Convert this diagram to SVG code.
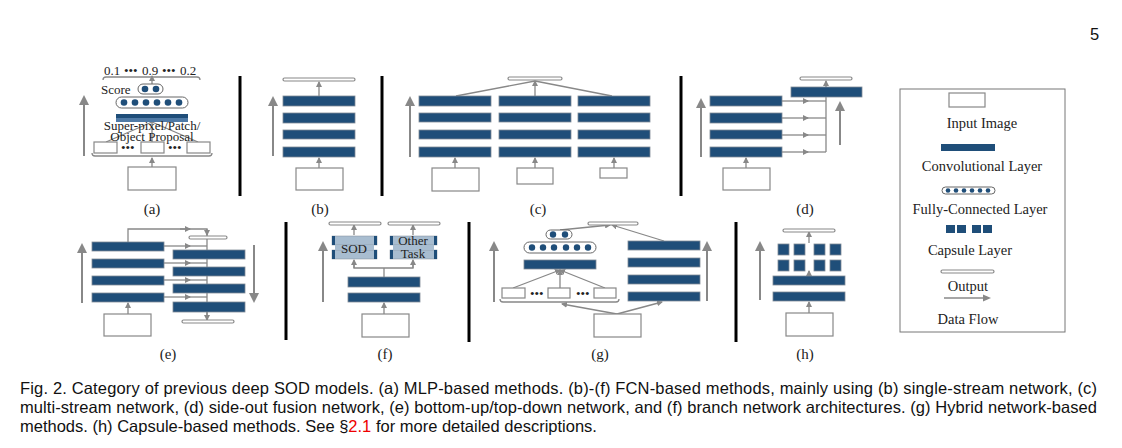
<svg xmlns="http://www.w3.org/2000/svg" width="1122" height="448" viewBox="0 0 1122 448">
<style>
.c{fill:#1f4e79;stroke:#7f8a96;stroke-width:0.8}
.i{fill:#fff;stroke:#888;stroke-width:1.2}
.o{fill:#fff;stroke:#888;stroke-width:1.2}
.f{fill:#fff;stroke:#666;stroke-width:1}
.d{fill:#1f4e79}
.l{stroke:#888;stroke-width:1.3;fill:none}
.a{stroke:#888;stroke-width:1.3;fill:none;marker-end:url(#s)}
.b{stroke:#888;stroke-width:2;fill:none;marker-end:url(#g)}
.sep{stroke:#000;stroke-width:3}
.t{font-family:"Liberation Serif",serif;font-size:13px;fill:#222}
.lb{font-family:"Liberation Serif",serif;font-size:15px;fill:#222;text-anchor:middle}
.lg{font-family:"Liberation Serif",serif;font-size:14.5px;fill:#222;text-anchor:middle}
.cap{font-family:"Liberation Sans",Arial,sans-serif;font-size:16.5px;fill:#111}
.sb{fill:#a8bdd0;stroke:#7f8a96;stroke-width:0.5}
</style>
<defs>
<marker id="s" markerWidth="6" markerHeight="6" refX="5" refY="3" orient="auto" markerUnits="userSpaceOnUse"><path d="M0,0L6,3L0,6z" fill="#888"/></marker>
<marker id="g" markerWidth="10" markerHeight="10" refX="8" refY="5" orient="auto" markerUnits="userSpaceOnUse"><path d="M0,0L10,5L0,10z" fill="#888"/></marker>
</defs>
<rect width="1122" height="448" fill="#fff"/>
<text x="1090" y="40" class="cap" font-size="14">5</text>
<g id="separators">
<line class="sep" x1="240" y1="76" x2="240" y2="196"/>
<line class="sep" x1="382" y1="76" x2="382" y2="196"/>
<line class="sep" x1="681" y1="76" x2="681" y2="196"/>
<line class="sep" x1="286" y1="222" x2="286" y2="340"/>
<line class="sep" x1="469" y1="222" x2="469" y2="342"/>
<line class="sep" x1="736" y1="222" x2="736" y2="342"/>
</g>
<g id="connectors">
<line class="b" x1="84" y1="156" x2="84" y2="97"/>
<line class="a" x1="152" y1="167" x2="152" y2="158"/>
<line class="a" x1="152" y1="84" x2="152" y2="76"/>
<line class="l" x1="106" y1="142" x2="152" y2="122"/>
<line class="l" x1="152" y1="142" x2="152" y2="122"/>
<line class="l" x1="198" y1="142" x2="152" y2="122"/>
<line class="b" x1="273" y1="156" x2="273" y2="98"/>
<line class="a" x1="319" y1="168" x2="319" y2="158"/>
<line class="a" x1="319" y1="96" x2="319" y2="82"/>
<line class="b" x1="410" y1="157" x2="410" y2="98"/>
<line class="a" x1="455" y1="168" x2="455" y2="158"/>
<line class="a" x1="535" y1="168" x2="535" y2="158"/>
<line class="a" x1="614" y1="168" x2="614" y2="158"/>
<line class="a" x1="535" y1="96" x2="535" y2="81"/>
<line class="l" x1="456" y1="96" x2="535" y2="81"/>
<line class="l" x1="612" y1="96" x2="535" y2="81"/>
<line class="b" x1="701" y1="157" x2="701" y2="100"/>
<line class="a" x1="746" y1="168" x2="746" y2="158"/>
<line class="a" x1="782" y1="101" x2="808" y2="101"/><line class="l" x1="805" y1="101" x2="826" y2="101"/>
<line class="a" x1="782" y1="118" x2="808" y2="118"/><line class="l" x1="805" y1="118" x2="826" y2="118"/>
<line class="a" x1="782" y1="135" x2="808" y2="135"/><line class="l" x1="805" y1="135" x2="826" y2="135"/>
<line class="a" x1="782" y1="152" x2="808" y2="152"/><line class="l" x1="805" y1="152" x2="826" y2="152"/>
<line class="l" x1="826" y1="97" x2="826" y2="152"/>
<line class="b" x1="840" y1="145" x2="840" y2="103"/>
<line class="a" x1="826" y1="87" x2="826" y2="81"/>
<line class="b" x1="82" y1="303" x2="82" y2="245"/>
<line class="b" x1="254" y1="245" x2="254" y2="301"/>
<line class="a" x1="128" y1="314" x2="128" y2="303"/>
<polyline class="l" points="128,242 128,229 207,229 207,236"/>
<line class="a" x1="180" y1="229" x2="190" y2="229"/>
<line class="a" x1="207" y1="229" x2="207" y2="235"/>
<line class="l" x1="207" y1="239" x2="207" y2="320"/>
<line class="a" x1="207" y1="312" x2="207" y2="320"/>
<line class="a" x1="164" y1="246" x2="190" y2="246"/><line class="l" x1="188" y1="246" x2="207" y2="246"/>
<line class="a" x1="164" y1="263" x2="190" y2="263"/><line class="l" x1="188" y1="263" x2="207" y2="263"/>
<line class="a" x1="164" y1="280" x2="190" y2="280"/><line class="l" x1="188" y1="280" x2="207" y2="280"/>
<line class="a" x1="164" y1="297" x2="190" y2="297"/><line class="l" x1="188" y1="297" x2="207" y2="297"/>
<line class="b" x1="323" y1="302" x2="323" y2="243"/>
<line class="a" x1="384" y1="314" x2="384" y2="303"/>
<line class="l" x1="384" y1="277" x2="384" y2="268"/>
<polyline class="l" points="354,262 354,268 413,268 413,262"/>
<line class="a" x1="354" y1="268" x2="354" y2="260"/>
<line class="a" x1="413" y1="268" x2="413" y2="260"/>
<line class="a" x1="354" y1="235" x2="354" y2="225"/>
<line class="a" x1="413" y1="235" x2="413" y2="225"/>
<line class="b" x1="494" y1="302" x2="494" y2="243"/>
<line class="b" x1="707" y1="301" x2="707" y2="243"/>
<line class="a" x1="617" y1="314" x2="562" y2="304"/>
<line class="a" x1="617" y1="314" x2="662" y2="302"/>
<line class="a" x1="513" y1="288" x2="560" y2="270"/>
<line class="a" x1="560" y1="288" x2="560" y2="270"/>
<line class="a" x1="605" y1="288" x2="560" y2="270"/>
<line class="a" x1="560" y1="230" x2="610" y2="225"/>
<line class="a" x1="664" y1="241" x2="612" y2="225"/>
<line class="b" x1="760" y1="300" x2="760" y2="243"/>
<line class="a" x1="809" y1="313" x2="809" y2="302"/>
<line class="a" x1="809" y1="276" x2="809" y2="271"/>
<line class="a" x1="809" y1="243" x2="809" y2="232"/>
</g>
<g id="panel-a">
<text x="104" y="75" class="t" font-size="14.5">0.1</text>
<text x="124" y="75" class="t" font-size="12">•••</text>
<text x="142" y="75" class="t" font-size="14.5">0.9</text>
<text x="162" y="75" class="t" font-size="12">•••</text>
<text x="180" y="75" class="t" font-size="14.5">0.2</text>
<path class="l" d="M103,80 q0,-3 3,-3 M200,80 q0,-3 -3,-3 M106,77 L197,77" stroke-width="0.8"/>
<text x="101" y="94" class="t" font-size="14">Score</text>
<rect class="f" x="138" y="84" width="25" height="10" rx="5"/>
<circle class="d" cx="145" cy="89" r="3.3"/><circle class="d" cx="156" cy="89" r="3.3"/>
<rect class="f" x="116" y="97" width="72" height="11" rx="5.5"/>
<circle class="d" cx="124" cy="102.5" r="3.3"/><circle class="d" cx="135" cy="102.5" r="3.3"/><circle class="d" cx="146" cy="102.5" r="3.3"/><circle class="d" cx="157" cy="102.5" r="3.3"/><circle class="d" cx="168" cy="102.5" r="3.3"/><circle class="d" cx="179" cy="102.5" r="3.3"/>
<rect x="116" y="114" width="72" height="8" fill="#4f7aa6"/>
<rect x="116" y="114" width="72" height="4" fill="#1f4e79"/>
<text x="152" y="130" class="t" text-anchor="middle" font-size="12">Super-pixel/Patch/</text>
<text x="152" y="141" class="t" text-anchor="middle" font-size="12">Object Proposal</text>
<rect class="i" x="94" y="142" width="23" height="11"/>
<rect class="i" x="141" y="142" width="23" height="11"/>
<rect class="i" x="187" y="142" width="23" height="11"/>
<text x="121" y="152" class="t" font-size="11">•••</text>
<text x="168" y="152" class="t" font-size="11">•••</text>
<path class="l" d="M92,153 q0,3 3,3 L209,156 q3,0 3,-3" stroke-width="0.8"/>
<rect class="i" x="128" y="167" width="48" height="23"/>
<text x="152" y="214" class="lb">(a)</text>
</g>
<g id="panel-b">
<rect class="o" x="283" y="78" width="72" height="3" rx="1.5"/>
<rect class="c" x="283" y="96" width="72" height="10"/>
<rect class="c" x="283" y="113" width="72" height="10"/>
<rect class="c" x="283" y="130" width="72" height="9"/>
<rect class="c" x="283" y="147" width="72" height="10"/>
<rect class="i" x="296" y="168" width="47" height="22"/>
<text x="320" y="214" class="lb">(b)</text>
</g>
<g id="panel-c">
<rect class="o" x="508" y="77" width="54" height="3" rx="1.5"/>
<rect class="c" x="419" y="96" width="72" height="10"/><rect class="c" x="499" y="96" width="72" height="10"/><rect class="c" x="578" y="96" width="72" height="10"/>
<rect class="c" x="419" y="113" width="72" height="9"/><rect class="c" x="499" y="113" width="72" height="9"/><rect class="c" x="578" y="113" width="72" height="9"/>
<rect class="c" x="419" y="130" width="72" height="9"/><rect class="c" x="499" y="130" width="72" height="9"/><rect class="c" x="578" y="130" width="72" height="9"/>
<rect class="c" x="419" y="147" width="72" height="10"/><rect class="c" x="499" y="147" width="72" height="10"/><rect class="c" x="578" y="147" width="72" height="10"/>
<rect class="i" x="432" y="168" width="47" height="23"/>
<rect class="i" x="517" y="168" width="36" height="16"/>
<rect class="i" x="600" y="168" width="27" height="10"/>
<text x="538" y="214" class="lb">(c)</text>
</g>
<g id="panel-d">
<rect class="o" x="800" y="77" width="52" height="3" rx="1.5"/>
<rect class="c" x="791" y="87" width="71" height="10"/>
<rect class="c" x="710" y="96" width="72" height="10"/>
<rect class="c" x="710" y="113" width="72" height="10"/>
<rect class="c" x="710" y="130" width="72" height="9"/>
<rect class="c" x="710" y="147" width="72" height="10"/>
<rect class="i" x="723" y="168" width="47" height="22"/>
<text x="805" y="214" class="lb">(d)</text>
</g>
<g id="panel-e">
<rect class="o" x="189" y="236" width="38" height="3" rx="1.5"/>
<rect class="o" x="182" y="320" width="52" height="3" rx="1.5"/>
<rect class="c" x="92" y="242" width="72" height="9"/>
<rect class="c" x="92" y="259" width="72" height="9"/>
<rect class="c" x="92" y="276" width="72" height="9"/>
<rect class="c" x="92" y="293" width="72" height="9"/>
<rect class="c" x="173" y="250" width="72" height="9"/>
<rect class="c" x="173" y="267" width="72" height="9"/>
<rect class="c" x="173" y="284" width="72" height="9"/>
<rect class="c" x="173" y="302" width="72" height="10"/>
<rect class="i" x="104" y="314" width="47" height="22"/>
<text x="168" y="359" class="lb">(e)</text>
</g>
<g id="panel-f">
<rect class="o" x="329" y="222" width="52" height="3" rx="1.5"/>
<rect class="o" x="388" y="222" width="52" height="3" rx="1.5"/>
<rect class="sb" x="332" y="236" width="45" height="9"/><rect class="sb" x="332" y="250" width="45" height="9"/>
<rect class="d" x="332" y="236" width="3" height="9"/><rect class="d" x="374" y="236" width="3" height="9"/><rect class="d" x="332" y="250" width="3" height="9"/><rect class="d" x="374" y="250" width="3" height="9"/>
<rect x="335" y="245" width="39" height="5" fill="#a8bdd0"/>
<text x="354" y="253" class="t" text-anchor="middle" font-size="14.5">SOD</text>
<rect class="sb" x="390" y="236" width="47" height="9"/><rect class="sb" x="390" y="250" width="47" height="9"/>
<rect class="d" x="390" y="236" width="3" height="9"/><rect class="d" x="434" y="236" width="3" height="9"/><rect class="d" x="390" y="250" width="3" height="9"/><rect class="d" x="434" y="250" width="3" height="9"/>
<rect x="393" y="245" width="41" height="5" fill="#a8bdd0"/>
<text x="413" y="245" class="t" text-anchor="middle" font-size="14.5">Other</text>
<text x="413" y="258" class="t" text-anchor="middle" font-size="14.5">Task</text>
<rect class="c" x="348" y="277" width="72" height="10"/>
<rect class="c" x="348" y="293" width="72" height="9"/>
<rect class="i" x="362" y="314" width="47" height="23"/>
<text x="385" y="359" class="lb">(f)</text>
</g>
<g id="panel-g">
<rect class="o" x="588" y="222" width="50" height="3" rx="1.5"/>
<rect class="f" x="546" y="230" width="26" height="9" rx="4.5"/>
<circle class="d" cx="553" cy="234.5" r="3.2"/><circle class="d" cx="565" cy="234.5" r="3.2"/>
<rect class="f" x="524" y="242" width="72" height="11" rx="5.5"/>
<circle class="d" cx="532" cy="247.5" r="3.2"/><circle class="d" cx="543" cy="247.5" r="3.2"/><circle class="d" cx="554" cy="247.5" r="3.2"/><circle class="d" cx="566" cy="247.5" r="3.2"/><circle class="d" cx="577" cy="247.5" r="3.2"/><circle class="d" cx="588" cy="247.5" r="3.2"/>
<rect class="c" x="524" y="260" width="72" height="9"/>
<rect class="i" x="502" y="288" width="23" height="10"/>
<rect class="i" x="548" y="288" width="22" height="10"/>
<rect class="i" x="594" y="288" width="22" height="10"/>
<text x="530" y="298" class="t" font-size="11">•••</text>
<text x="576" y="298" class="t" font-size="11">•••</text>
<path class="l" d="M500,299 q0,3 3,3 L616,302 q3,0 3,-3" stroke-width="0.8"/>
<rect class="c" x="628" y="241" width="72" height="9"/>
<rect class="c" x="628" y="258" width="72" height="9"/>
<rect class="c" x="628" y="275" width="72" height="9"/>
<rect class="c" x="628" y="292" width="72" height="9"/>
<rect class="i" x="594" y="314" width="47" height="23"/>
<text x="600" y="359" class="lb">(g)</text>
</g>
<g id="panel-h">
<rect class="o" x="783" y="229" width="52" height="3" rx="1.5"/>
<rect class="c" x="778" y="244" width="11" height="11"/><rect class="c" x="794" y="244" width="11" height="11"/><rect class="c" x="814" y="244" width="11" height="11"/><rect class="c" x="830" y="244" width="11" height="11"/>
<rect class="c" x="778" y="260" width="11" height="11"/><rect class="c" x="794" y="260" width="11" height="11"/><rect class="c" x="814" y="260" width="11" height="11"/><rect class="c" x="830" y="260" width="11" height="11"/>
<rect class="c" x="773" y="276" width="72" height="9"/>
<rect class="c" x="773" y="292" width="72" height="9"/>
<rect class="i" x="786" y="313" width="47" height="23"/>
<text x="805" y="359" class="lb">(h)</text>
</g>
<g id="legend">
<rect x="900" y="89" width="165" height="243" fill="#fff" stroke="#777" stroke-width="1"/>
<rect class="i" x="949" y="93" width="36" height="14"/>
<text x="982" y="128" class="lg">Input Image</text>
<rect class="d" x="941" y="144" width="54" height="7"/>
<text x="982" y="171" class="lg">Convolutional Layer</text>
<rect class="f" x="942" y="187" width="53" height="7" rx="3.5"/>
<circle class="d" cx="948" cy="190.5" r="2.3"/><circle class="d" cx="956" cy="190.5" r="2.3"/><circle class="d" cx="964" cy="190.5" r="2.3"/><circle class="d" cx="972" cy="190.5" r="2.3"/><circle class="d" cx="980" cy="190.5" r="2.3"/><circle class="d" cx="988" cy="190.5" r="2.3"/>
<text x="980" y="214" class="lg">Fully-Connected Layer</text>
<rect class="d" x="946" y="225" width="9" height="8"/><rect class="d" x="957" y="225" width="9" height="8"/><rect class="d" x="972" y="225" width="9" height="8"/><rect class="d" x="983" y="225" width="9" height="8"/>
<text x="970" y="255" class="lg">Capsule Layer</text>
<rect class="o" x="941" y="270" width="53" height="3" rx="1.5"/>
<text x="968" y="291" class="lg">Output</text>
<line x1="944" y1="298" x2="984" y2="298" stroke="#888" stroke-width="1.3"/>
<path d="M983,294.5L991,298L983,301.5z" fill="#888"/>
<text x="968" y="324" class="lg">Data Flow</text>
</g>
<g id="caption">
<text x="20" y="394" class="cap" textLength="1077" lengthAdjust="spacing">Fig. 2. Category of previous deep SOD models. (a) MLP-based methods. (b)-(f) FCN-based methods, mainly using (b) single-stream network, (c)</text>
<text x="20" y="413" class="cap" textLength="1077" lengthAdjust="spacing">multi-stream network, (d) side-out fusion network, (e) bottom-up/top-down network, and (f) branch network architectures. (g) Hybrid network-based</text>
<text x="20" y="432" class="cap">methods. (h) Capsule-based methods. See §<tspan fill="#e00">2.1</tspan> for more detailed descriptions.</text>
</g>
</svg>
